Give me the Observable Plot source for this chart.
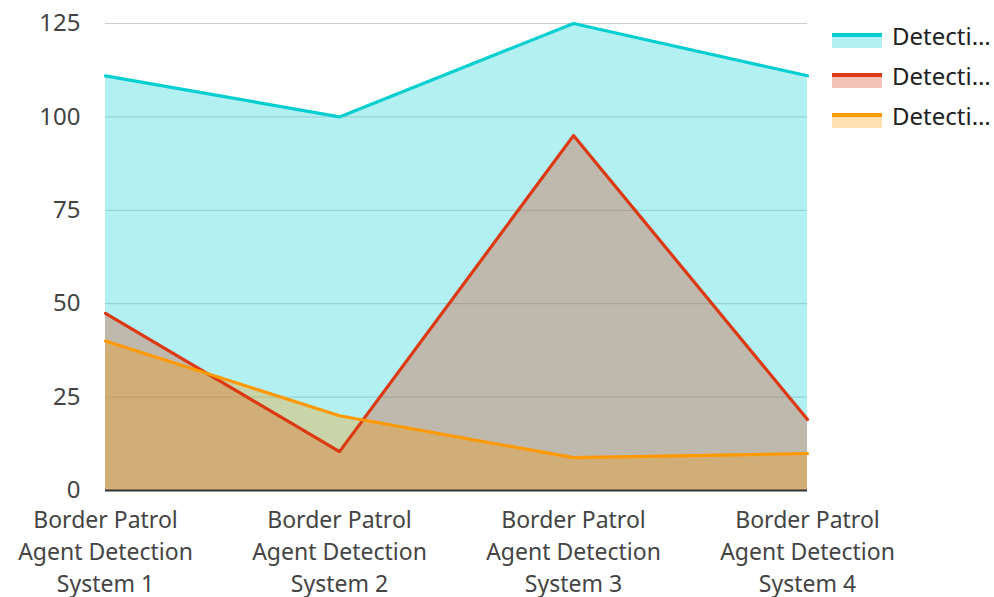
<!DOCTYPE html>
<html><head><meta charset="utf-8">
<script src="https://cdn.jsdelivr.net/npm/d3@7"></script>
<script src="https://cdn.jsdelivr.net/npm/@observablehq/plot@0.6"></script>
<style>
body{margin:0;background:#fff;font-family:"Noto Sans",sans-serif}
#wrap{position:relative;width:994px;height:597px;overflow:hidden}
#legend{position:absolute;left:832px;top:0;width:162px}
.item{position:absolute;left:0;display:block;white-space:nowrap}
.sw{position:absolute;left:0;width:50px;height:15px}
.sw .ln{position:absolute;left:0;top:0;width:50px;height:4px}
.sw .fl{position:absolute;left:0;top:4px;width:50px;height:11px}
.lb{position:absolute;left:60px;font-size:24px;line-height:24px;color:#222}
</style>
</head><body>
<div id="wrap"><div id="chart"></div><div id="legend"></div></div>
<script>
const categories = [
  "Border Patrol Agent Detection System 1",
  "Border Patrol Agent Detection System 2",
  "Border Patrol Agent Detection System 3",
  "Border Patrol Agent Detection System 4"
];
const tickLabels = [
  "Border Patrol\nAgent Detection\nSystem 1",
  "Border Patrol\nAgent Detection\nSystem 2",
  "Border Patrol\nAgent Detection\nSystem 3",
  "Border Patrol\nAgent Detection\nSystem 4"
];
const seriesNames = ["Detecti… A", "Detecti… B", "Detecti… C"];
const legendLabels = ["Detecti…", "Detecti…", "Detecti…"];
const seriesColors = ["#00CED1", "#DC3912", "#FF9900"];
const series1 = [111, 100, 125, 111];
const series2 = [47.4, 10.4, 95, 19];
const series3 = [40, 20, 8.8, 9.9];
const yTicks = [0, 25, 50, 75, 100, 125];

const allSeries = [series1, series2, series3];
const rows = [];
allSeries.forEach((vals, si) => vals.forEach((v, i) => rows.push({series: seriesNames[si], category: categories[i], value: v})));

const chart = Plot.plot({
  width: 994,
  height: 597,
  marginLeft: 105,
  marginRight: 187,
  marginTop: 23,
  marginBottom: 107,
  style: {fontFamily: "'Noto Sans', sans-serif", color: "#444", background: "#fff"},
  x: {type: "point", domain: categories, padding: 0},
  y: {domain: [0, 125]},
  color: {domain: seriesNames, range: seriesColors},
  marks: [
    Plot.gridY(yTicks, {stroke: "#ccc", strokeOpacity: 1, strokeWidth: 1}),
    Plot.areaY(rows, {x: "category", y1: 0, y2: "value", z: "series", fill: "series", fillOpacity: 0.3, curve: "linear"}),
    Plot.ruleY([0], {stroke: "#333", strokeWidth: 2}),
    Plot.line(rows, {x: "category", y: "value", z: "series", stroke: "series", strokeWidth: 3.2, curve: "linear"}),
    Plot.axisY({ticks: yTicks, tickSize: 0, tickPadding: 25, fontSize: 24, label: null}),
    Plot.axisX({tickSize: 0, tickPadding: 15, fontSize: 23, lineHeight: 1.39, label: null,
      tickFormat: d => tickLabels[categories.indexOf(d)]})
  ]
});
document.getElementById("chart").appendChild(chart);

const legend = document.getElementById("legend");
seriesColors.forEach((c, i) => {
  const item = document.createElement("div");
  item.className = "item";
  item.style.top = (33 + i * 40) + "px";
  const sw = document.createElement("div");
  sw.className = "sw";
  const ln = document.createElement("div"); ln.className = "ln"; ln.style.background = c;
  const fl = document.createElement("div"); fl.className = "fl"; fl.style.background = c; fl.style.opacity = 0.3;
  sw.appendChild(ln); sw.appendChild(fl);
  const lb = document.createElement("div");
  lb.className = "lb"; lb.style.top = "-9px"; lb.textContent = legendLabels[i];
  item.appendChild(sw); item.appendChild(lb);
  legend.appendChild(item);
});
</script>
</body></html>
